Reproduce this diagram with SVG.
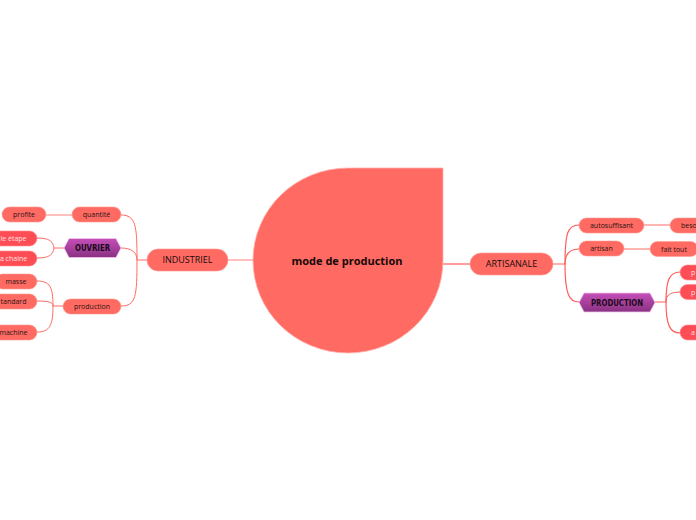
<svg xmlns="http://www.w3.org/2000/svg" width="696" height="520" viewBox="0 0 696 520">
<defs>
<linearGradient id="hexg" x1="0" y1="0" x2="0" y2="1">
<stop offset="0" stop-color="#C44FB8"/>
<stop offset="1" stop-color="#8A3282"/>
</linearGradient>
<style>
.n{fill:#FF6A62;stroke:#FF9C96;stroke-width:0.6}
.d{fill:#FF4D55;stroke:#FF8A8E;stroke-width:0.6}
.big{fill:#FF6A62;stroke:#FFB3AE;stroke-width:0.8}
.hex{fill:url(#hexg);stroke:#F2C3EC;stroke-width:0.8}
.t{font-family:"Open Sans","Noto Sans","Liberation Sans",sans-serif;font-size:7px;fill:#2a1414;text-anchor:middle}
.tl{font-family:"Open Sans","Noto Sans","Liberation Sans",sans-serif;font-size:7px;fill:#FFE3E3;text-anchor:middle}
.tb{font-family:"Open Sans","Noto Sans","Liberation Sans",sans-serif;font-size:9px;fill:#1a0c0c;text-anchor:middle}
.th{font-family:"DejaVu Sans","Liberation Sans",sans-serif;font-size:8px;font-weight:bold;fill:#1a0a18;text-anchor:middle}
.c{fill:none;stroke:#FF6A62;stroke-width:1}
.cp{fill:none;stroke:#FFABA7;stroke-width:1.5}
.cr{fill:none;stroke:#FF5E58;stroke-width:1.2}
</style>
</defs>
<rect width="696" height="520" fill="#ffffff"/>
<g id="connectors">
<path class="cp" d="M253,260 H228"/>
<path class="cr" d="M443,264 H470"/>
<path class="c" d="M147,260 H137 C137,226 136,215 121,215"/>
<path class="c" d="M137,260 C137,252 131,248 121,248"/>
<path class="c" d="M137,260 C137,296 136,306 121,306"/>
<path class="cp" d="M72,215 H46"/>
<path class="c" d="M64,248 H54 C53,241 49,238 37,238"/>
<path class="c" d="M54,248 C53,255 49,258 37,258"/>
<path class="c" d="M63,306 H53 C53,287 50,281 37,281"/>
<path class="c" d="M53,306 C53,302 48,301 37,301"/>
<path class="c" d="M53,306 C53,325 50,332 37,332"/>
<path class="cr" d="M553,264 H565 C565,232 568,225 579,225"/>
<path class="cr" d="M565,264 C565,254 569,249 579,249"/>
<path class="cr" d="M565,264 C565,294 569,302 579,302"/>
<path class="c" d="M644,225 H670"/>
<path class="c" d="M624,249 H650"/>
<path class="cr" d="M655,302 H666 C666,279 670,272 680,272"/>
<path class="cr" d="M666,302 C666,295 670,292 680,292"/>
<path class="cr" d="M666,302 C666,325 670,333 680,333"/>
</g>
<g id="center">
<path class="big" d="M348,168 L443,168 L443,261 A95,92.5 0 1 1 348,168 Z"/>
<text x="347" y="265" style="font-family:'Open Sans','Noto Sans','Liberation Sans',sans-serif;font-size:11px;font-weight:bold;fill:#140808;text-anchor:middle">mode de production</text>
</g>
<g id="industriel">
<rect class="n" x="147" y="249" width="81" height="22" rx="11"/>
<text class="tb" x="187.5" y="263.3">INDUSTRIEL</text>
</g>
<g id="quantite">
<rect class="n" x="72" y="207" width="49" height="15" rx="7.5"/>
<text class="t" x="96.5" y="217">quantité</text>
</g>
<g id="profite">
<rect class="n" x="2" y="207" width="44" height="15" rx="7.5"/>
<text class="t" x="24" y="217">profite</text>
</g>
<g id="ouvrier">
<polygon class="hex" points="64,248 69,238.5 116,238.5 121,248 116,257.5 69,257.5"/>
<text class="th" x="92.5" y="251" textLength="35" lengthAdjust="spacingAndGlyphs">OUVRIER</text>
</g>
<g id="etape">
<rect class="d" x="-12" y="231" width="49" height="15" rx="7.5"/>
<text class="tl" x="13.5" y="241">le étape</text>
</g>
<g id="chaine">
<rect class="d" x="-12" y="251" width="49" height="15" rx="7.5"/>
<text class="tl" x="13.5" y="261">a chaine</text>
</g>
<g id="production">
<rect class="n" x="63" y="299" width="58" height="15" rx="7.5"/>
<text class="t" x="92" y="309">production</text>
</g>
<g id="masse">
<rect class="n" x="-5" y="274" width="42" height="15" rx="7.5"/>
<text class="t" x="16" y="284">masse</text>
</g>
<g id="standard">
<rect class="n" x="-12" y="294" width="49" height="15" rx="7.5"/>
<text class="t" x="13.5" y="304">tandard</text>
</g>
<g id="machine">
<rect class="n" x="-12" y="325" width="49" height="15" rx="7.5"/>
<text class="t" x="13.5" y="335">machine</text>
</g>
<g id="artisanale">
<rect class="n" x="470" y="253" width="83" height="22" rx="11"/>
<text class="tb" x="511.5" y="267.3">ARTISANALE</text>
</g>
<g id="autosuffisant">
<rect class="n" x="579" y="218" width="65" height="15" rx="7.5"/>
<text class="t" x="611.5" y="228">autosuffisant</text>
</g>
<g id="besoin">
<rect class="n" x="670" y="218" width="40" height="15" rx="7.5"/>
<text class="t" x="681" y="228" style="text-anchor:start">beso</text>
</g>
<g id="artisan">
<rect class="n" x="579" y="241" width="45" height="15" rx="7.5"/>
<text class="t" x="601.5" y="251">artisan</text>
</g>
<g id="faittout">
<rect class="n" x="650" y="241.5" width="48" height="15" rx="7.5"/>
<text class="t" x="674" y="251.5">fait tout</text>
</g>
<g id="production2">
<polygon class="hex" points="579,302.5 584,293 650,293 655,302.5 650,312 584,312"/>
<text class="th" x="617" y="305.5" textLength="52" lengthAdjust="spacingAndGlyphs">PRODUCTION</text>
</g>
<g id="p1">
<rect class="d" x="680" y="265" width="30" height="15" rx="7.5"/>
<text class="tl" x="691" y="275" style="text-anchor:start">p</text>
</g>
<g id="p2">
<rect class="d" x="680" y="284.5" width="30" height="15" rx="7.5"/>
<text class="tl" x="691" y="294.5" style="text-anchor:start">p</text>
</g>
<g id="a1">
<rect class="d" x="680" y="325" width="30" height="15" rx="7.5"/>
<text class="tl" x="691" y="335" style="text-anchor:start">a</text>
</g>
</svg>
